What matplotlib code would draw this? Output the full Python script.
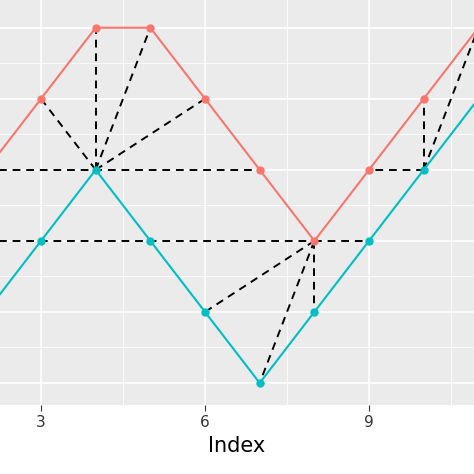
import matplotlib.pyplot as plt
import numpy as np

index = [2, 3, 4, 5, 6, 7, 8, 9, 10, 11]
red_vals = [3, 4, 5, 5, 4, 3, 2, 3, 4, 5]
cyan_vals = [1, 2, 3, 2, 1, 0, 1, 2, 3, 4]

# dashed links: (x0, y0, x1, y1)
links = [
    (4, 3, 3, 4), (4, 3, 4, 5), (4, 3, 5, 5), (4, 3, 6, 4),
    (2, 3, 7, 3),
    (2, 2, 8, 2), (8, 2, 6, 1), (8, 2, 7, 0), (8, 2, 8, 1), (8, 2, 9, 2),
    (10, 3, 10, 4), (10, 3, 9, 3), (10, 3, 11, 5),
]

fig = plt.figure(figsize=(4.74, 4.74), dpi=100)
ax = fig.add_axes([0, 1 - 405 / 474, 1, 405 / 474])
ax.set_facecolor('#EBEBEB')

for x0, y0, x1, y1 in links:
    ax.plot([x0, x1], [y0, y1], color='black', ls=(0, (4, 3)), lw=1.4, zorder=3)

ax.plot(index, red_vals, color='#F8766D', lw=1.5, marker='o', ms=5, zorder=4)
ax.plot(index, cyan_vals, color='#00BFC4', lw=1.5, marker='o', ms=5, zorder=4)

ax.set_xticks([3, 6, 9])
ax.set_xticks([1.5, 4.5, 7.5, 10.5], minor=True)
ax.set_yticks(range(0, 6))
ax.set_yticks(np.arange(-0.5, 6, 1), minor=True)
ax.set_xlim(2.25, 10.92)
ax.set_ylim(-0.31, 5.39)
ax.grid(which='major', color='white', lw=1.2)
ax.grid(which='minor', color='white', lw=0.6)
ax.set_axisbelow(True)
for s in ax.spines.values():
    s.set_visible(False)
ax.tick_params(axis='x', which='major', colors='#333333', labelsize=11, length=4, color='#333333')
ax.tick_params(axis='x', which='minor', length=0)
ax.tick_params(axis='y', which='both', length=0, labelleft=False)
ax.set_xlabel('Index', fontsize=15, labelpad=4)

fig.savefig('out.png', dpi=100)
